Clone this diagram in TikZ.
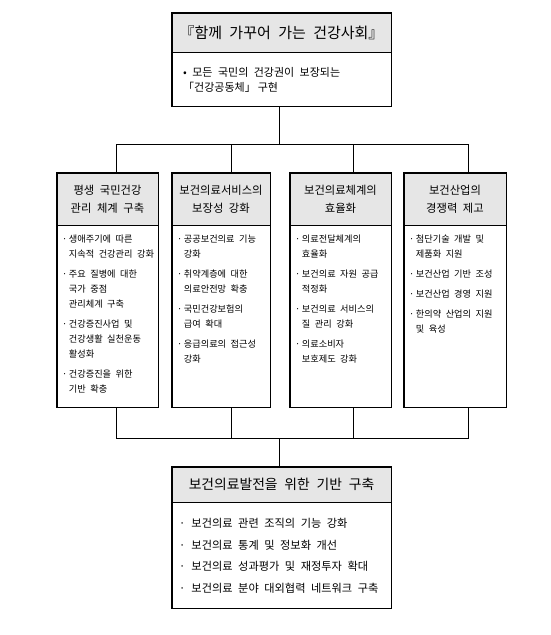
\documentclass[tikz,border=0pt]{standalone}
\usepackage{fontspec}
\setmainfont{Noto Sans CJK KR}[WordSpace=2.2]
\usepackage{xcolor}
\usepackage{tikz}
\usetikzlibrary{math}
\definecolor{headgray}{HTML}{E6E6E6}
\newcommand{\colitems}[1]{{\fontsize{9.2}{15}\selectfont\begin{tabular}{@{}l@{\hspace{1.5pt}}l@{}}#1\end{tabular}}}
\newcommand{\baseitems}[1]{{\fontsize{11.2}{21.7}\selectfont\begin{tabular}{@{}l@{\hspace{6pt}}l@{}}#1\end{tabular}}}

\begin{document}
\begin{tikzpicture}[x=1pt,y=-1pt,
	head/.style={draw,line width=0.6pt,fill=headgray,inner sep=0pt,align=center},
	body/.style={draw,line width=0.6pt,inner sep=0pt},
	frame/.style={line width=1.6pt},
	link/.style={line width=0.8pt},
	txt/.style={inner sep=0pt,anchor=north west}]
\useasboundingbox (0,0) rectangle (550,635);
\tikzmath{
	\hh = 52;\hb = 182;\yh = 199;\yb = 316;
	\ybus = 144;\ylow = 438;\ytxt = 232;
	% top box
	{\node[head,minimum width=219pt,minimum height=39pt,font=\fontsize{15}{18}\selectfont] (top) at (281.5,32.5) {『함께 가꾸어 가는 건강사회』};};
	{\node[body,minimum width=219pt,minimum height=54pt] (tb) at (281.5,79) {};};
	{\node[txt] (tt) at (183,65.5) {\fontsize{11}{15}\selectfont\begin{tabular}{@{}l@{}}• 모든 국민의 건강권이 보장되는\\「건강공동체」\hspace{2pt}구현\end{tabular}};};
	{\draw[frame] (top.north west) rectangle (tb.south east);};
	%
	{\node[head,minimum width=101pt,minimum height=\hh pt,font=\fontsize{11.3}{18}\selectfont] (h1) at (107.5,\yh) {평생 국민건강\\관리 체계 구축};};
	{\node[body,minimum width=101pt,minimum height=\hb pt] (b1) at (107.5,\yb) {};};
	{\node[txt] (t1) at (62,\ytxt) {\colitems{·&생애주기에 따른\\&지속적 건강관리 강화\\[5pt]·&주요 질병에 대한\\&국가 중점\\&관리체계 구축\\[5pt]·&건강증진사업 및\\&건강생활 실천운동\\&활성화\\[5pt]·&건강증진을 위한\\&기반 확충}};};
	{\draw[frame] (h1.north west) rectangle (b1.south east);};
	%
	{\node[head,minimum width=98pt,minimum height=\hh pt,font=\fontsize{11.3}{18}\selectfont] (h2) at (221,\yh) {보건의료서비스의\\보장성 강화};};
	{\node[body,minimum width=98pt,minimum height=\hb pt] (b2) at (221,\yb) {};};
	{\node[txt] (t2) at (177,\ytxt) {\colitems{·&공공보건의료 기능\\&강화\\[5pt]·&취약계층에 대한\\&의료안전망 확충\\[5pt]·&국민건강보험의\\&급여 확대\\[5pt]·&응급의료의 접근성\\&강화}};};
	{\draw[frame] (h2.north west) rectangle (b2.south east);};
	%
	{\node[head,minimum width=101pt,minimum height=\hh pt,font=\fontsize{11.3}{18}\selectfont] (h3) at (340.5,\yh) {보건의료체계의\\효율화};};
	{\node[body,minimum width=101pt,minimum height=\hb pt] (b3) at (340.5,\yb) {};};
	{\node[txt] (t3) at (295,\ytxt) {\colitems{·&의료전달체계의\\&효율화\\[5pt]·&보건의료 자원 공급\\&적정화\\[5pt]·&보건의료 서비스의\\&질 관리 강화\\[5pt]·&의료소비자\\&보호제도 강화}};};
	{\draw[frame] (h3.north west) rectangle (b3.south east);};
	%
	{\node[head,minimum width=102pt,minimum height=\hh pt,font=\fontsize{11.3}{18}\selectfont] (h4) at (455,\yh) {보건산업의\\경쟁력 제고};};
	{\node[body,minimum width=102pt,minimum height=\hb pt] (b4) at (455,\yb) {};};
	{\node[txt] (t4) at (409,\ytxt) {\colitems{·&첨단기술 개발 및\\&제품화 지원\\[5pt]·&보건산업 기반 조성\\[5pt]·&보건산업 경영 지원\\[5pt]·&한의약 산업의 지원\\&및 육성}};};
	{\draw[frame] (h4.north west) rectangle (b4.south east);};
	%
	{\node[head,minimum width=219pt,minimum height=35pt,font=\fontsize{13.8}{16}\selectfont] (bh) at (281.5,484.5) {보건의료발전을 위한 기반 구축};};
	{\node[body,minimum width=219pt,minimum height=106pt] (bb) at (281.5,555) {};};
	{\node[txt] (bt) at (179,512) {\baseitems{·&보건의료 관련 조직의 기능 강화\\·&보건의료 통계 및 정보화 개선\\·&보건의료 성과평가 및 재정투자 확대\\·&보건의료 분야 대외협력 네트워크 구축}};};
	{\draw[frame] (bh.north west) rectangle (bb.south east);};
	%
	{\coordinate (k0) at (279,\ybus);};
	{\coordinate (k1) at (116,\ybus);};
	{\coordinate (k2) at (231,\ybus);};
	{\coordinate (k3) at (353,\ybus);};
	{\coordinate (k4) at (468,\ybus);};
	{\coordinate (m0) at (279,\ylow);};
	{\coordinate (m1) at (116,\ylow);};
	{\coordinate (m2) at (231,\ylow);};
	{\coordinate (m3) at (353,\ylow);};
	{\coordinate (m4) at (468,\ylow);};
	%
	{\draw[link] (tb.south -| k0) -- (k0);};
	{\draw[link] (k1 |- h1.north) -- (k1) -- (k4) -- (k4 |- h4.north);};
	{\draw[link] (k2) -- (k2 |- h2.north);};
	{\draw[link] (k3) -- (k3 |- h3.north);};
	{\draw[link] (m1 |- b1.south) -- (m1) -- (m4) -- (m4 |- b4.south);};
	{\draw[link] (m2 |- b2.south) -- (m2);};
	{\draw[link] (m3 |- b3.south) -- (m3);};
	{\draw[link] (m0) -- (m0 |- bh.north);};
};
\end{tikzpicture}
\end{document}
